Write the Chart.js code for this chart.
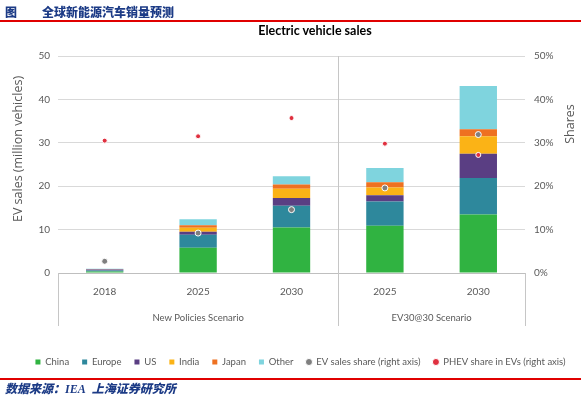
<!DOCTYPE html>
<html lang="zh">
<head>
<meta charset="UTF-8">
<title>全球新能源汽车销量预测</title>
<script src="https://cdn.jsdelivr.net/npm/chart.js"></script>
<style>
  body { margin: 0; background: #fff; }
  #wrap { position: relative; width: 581px; height: 398px; overflow: hidden; }
  #evChart { position: absolute; left: 0; top: 0; }
  .rule { position: absolute; left: 0; width: 581px; height: 2px; background: #e00000; }
  .cn { position: absolute; color: #1c3b86; font-family: "Noto Sans CJK SC", sans-serif; font-weight: 900; font-size: 12px; white-space: nowrap; }
  #title { position: absolute; top: 23px; left: 0; width: 630px; text-align: center; font: bold 12.5px Lato, sans-serif; color: #000; }
</style>
</head>
<body>
<div id="wrap">
  <canvas id="evChart" width="581" height="398"></canvas>
  <div class="cn" style="left:5px; top:3px;">图</div>
  <div class="cn" style="left:42px; top:3px;">全球新能源汽车销量预测</div>
  <div class="rule" style="top:20px;"></div>
  <div id="title">Electric vehicle sales</div>
  <div class="rule" style="top:378px;"></div>
  <div class="cn" style="left:5px; top:379px; font-style:italic; font-family:'Liberation Serif','Noto Sans CJK SC',serif;">数据来源：IEA&nbsp;&nbsp;上海证券研究所</div>
</div>

<script>
    const categories = ['2018', '2025', '2030', '2025', '2030'];
    const scenarios = ['New Policies Scenario', 'EV30@30 Scenario'];
    const scenarioSpans = [3, 2];

    const china  = [0.35, 5.8, 10.5, 10.9, 13.5];
    const europe = [0.25, 3.0, 5.0, 5.6, 8.4];
    const us     = [0.2, 0.7, 1.8, 1.4, 5.6];
    const india  = [0.02, 0.9, 2.1, 1.8, 4.0];
    const japan  = [0.05, 0.6, 1.0, 1.2, 1.6];
    const other  = [0.1, 1.4, 1.9, 3.3, 10.0];

    const evShare   = [0.027, 0.092, 0.146, 0.196, 0.319];
    const phevShare = [0.305, 0.315, 0.357, 0.298, 0.272];

    const leftTicks = [0, 10, 20, 30, 40, 50];
    const rightTicks = [0, 0.1, 0.2, 0.3, 0.4, 0.5];

    const grey = '#595959';

    function barSet(label, data, color) {
        return { type: 'bar', label, data, backgroundColor: color, borderWidth: 0,
                 pointStyle: 'rect', order: 1, stack: 'ev' };
    }

    function dotSet(label, data, color, r) {
        return {
            type: 'line', label, data, yAxisID: 'y2', order: 0, showLine: false,
            pointStyle: 'circle', pointRadius: r, pointBackgroundColor: color,
            pointBorderColor: '#fff', pointBorderWidth: 1,
            backgroundColor: color, borderColor: '#fff', borderWidth: 1
        };
    }

    // scenario group labels, divider lines and the two axis titles
    const scenarioPlugin = {
        id: 'scenarios',
        afterDraw(chart) {
            const { ctx, chartArea: area, scales: { x } } = chart;
            const edges = [area.left];
            let idx = 0;
            scenarioSpans.forEach(n => {
                idx += n;
                edges.push(idx < categories.length
                    ? (x.getPixelForValue(idx - 1) + x.getPixelForValue(idx)) / 2
                    : area.right);
            });
            ctx.save();
            ctx.lineWidth = 1;
            ctx.strokeStyle = '#c6c6c6';
            edges.forEach((ex, i) => {
                const px = Math.round(ex) + 0.5;
                const inner = i > 0 && i < edges.length - 1;
                ctx.beginPath();
                ctx.moveTo(px, inner ? area.top : area.bottom);
                ctx.lineTo(px, area.bottom + 53);
                ctx.stroke();
            });
            ctx.fillStyle = grey;
            ctx.font = '9.5px Lato, sans-serif';
            ctx.textAlign = 'center';
            ctx.textBaseline = 'middle';
            scenarios.forEach((s, i) => ctx.fillText(s, (edges[i] + edges[i + 1]) / 2, area.bottom + 45));

            ctx.font = '12.5px "Open Sans", sans-serif';
            ctx.save();
            ctx.translate(18, area.top + 93);
            ctx.rotate(-Math.PI / 2);
            ctx.fillText('EV sales (million vehicles)', 0, 0);
            ctx.restore();
            ctx.translate(area.right + 45, area.top + 68);
            ctx.rotate(-Math.PI / 2);
            ctx.fillText('Shares', 0, 0);
            ctx.restore();
        }
    };

    Chart.defaults.font.family = 'Lato, sans-serif';
    Chart.defaults.color = grey;

    new Chart(document.getElementById('evChart'), {
        data: {
            labels: categories,
            datasets: [
                barSet('China', china, '#30b341'),
                barSet('Europe', europe, '#2e889c'),
                barSet('US', us, '#5a3e83'),
                barSet('India', india, '#fbb316'),
                barSet('Japan', japan, '#ee7121'),
                barSet('Other', other, '#7fd4de'),
                dotSet('EV sales share (right axis)', evShare, '#7f7f7f', 3),
                dotSet('PHEV share in EVs (right axis)', phevShare, '#e0303f', 2.5)
            ]
        },
        options: {
            responsive: false,
            animation: false,
            layout: { padding: { top: 56, left: 20, right: 0, bottom: 21.25 } },
            datasets: { bar: { barPercentage: 0.4, categoryPercentage: 1 } },
            scales: {
                x: {
                    stacked: true,
                    grid: { display: false, drawTicks: false },
                    border: { display: true, color: '#bfbfbf' },
                    ticks: { padding: 13, font: { size: 10 }, color: grey },
                    afterFit(s) { s.height = 71.25; }
                },
                y: {
                    stacked: true, min: 0, max: 50,
                    afterBuildTicks(s) { s.ticks = leftTicks.map(v => ({ value: v })); },
                    grid: { color: '#d9d9d9', drawTicks: false },
                    border: { display: false },
                    ticks: { padding: 8, font: { size: 10 }, color: grey },
                    afterFit(s) { s.width = 38; }
                },
                y2: {
                    position: 'right', min: 0, max: 0.5,
                    afterBuildTicks(s) { s.ticks = rightTicks.map(v => ({ value: v })); },
                    grid: { display: false, drawTicks: false },
                    border: { display: false },
                    ticks: { padding: 9, font: { size: 10 }, color: grey,
                             callback: v => Math.round(v * 100) + '%' },
                    afterFit(s) { s.width = 56; }
                }
            },
            plugins: {
                legend: {
                    position: 'bottom',
                    labels: {
                        usePointStyle: true, boxWidth: 5, boxHeight: 5, padding: 13,
                        font: { size: 9.5 }, color: grey,
                        sort: (a, b) => a.datasetIndex - b.datasetIndex
                    }
                },
                tooltip: { enabled: false }
            }
        },
        plugins: [scenarioPlugin]
    });
</script>
</body>
</html>
